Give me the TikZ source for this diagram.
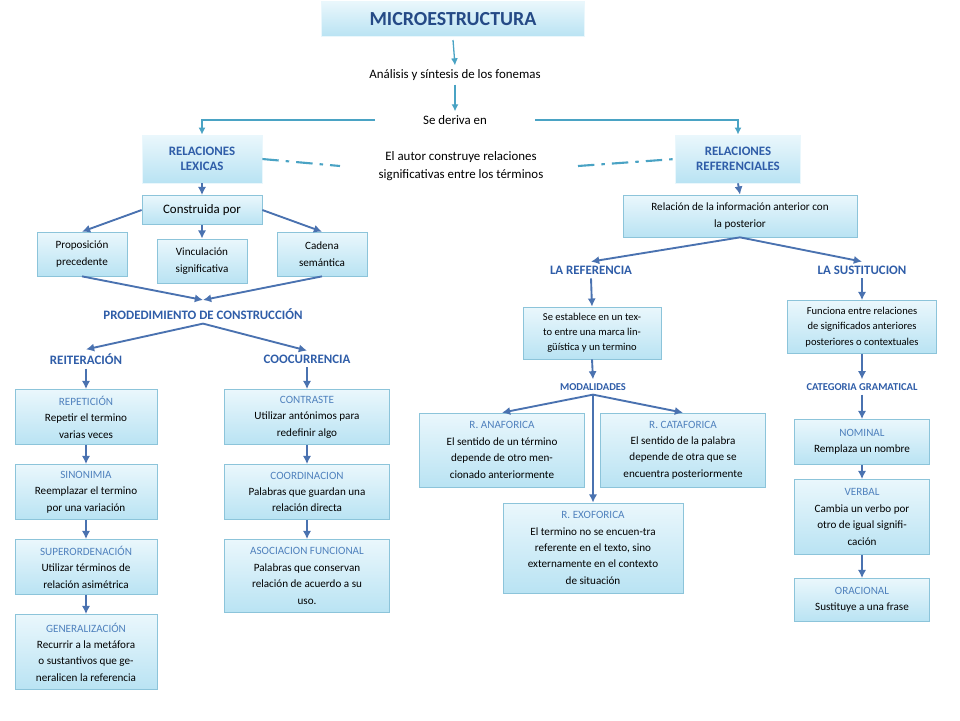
\documentclass[tikz,border=0pt]{standalone}
\usepackage{fontspec}
\setmainfont{Carlito}
\usetikzlibrary{arrows.meta}
\definecolor{boxline}{HTML}{8CC4DA}
\definecolor{boxtop}{HTML}{EAF7FC}
\definecolor{boxbot}{HTML}{B9E3F3}
\definecolor{headblue}{HTML}{2F5DA8}
\definecolor{capblue}{HTML}{4F81BD}
\definecolor{arrblue}{HTML}{4A72B0}
\definecolor{topcyan}{HTML}{4AA3C4}
\tikzset{
  box/.style={draw=boxline, line width=0.6pt, top color=boxtop, bottom color=boxbot,
    align=center, inner sep=2pt, font=\fontsize{9.5}{14}\selectfont},
  head/.style={font=\bfseries\fontsize{11}{13}\selectfont, text=headblue, align=center},
  plain/.style={font=\fontsize{11}{16}\selectfont, align=center},
  arr/.style={draw=arrblue, line width=1.6pt, -{Latex[length=7pt,width=7pt]}},
  carr/.style={draw=topcyan, line width=1.1pt, -{Latex[length=6pt,width=6pt]}},
  dd/.style={draw=topcyan, line width=1.8pt, dash pattern=on 14pt off 6pt on 3pt off 6pt}
}
\newcommand{\boxcap}[1]{\textcolor{capblue}{#1}}
\begin{document}
\begin{tikzpicture}[x=0.03cm,y=-0.03cm]
\useasboundingbox (0,0) rectangle (960,720);
% top
\node[box, minimum width=263*0.03cm, minimum height=35*0.03cm, draw=boxtop, font=\bfseries\fontsize{17}{19}\selectfont, text=headblue!80!black] (title) at (453,19) {MICROESTRUCTURA};
\node[plain] (anal) at (455,75) {Análisis y síntesis de los fonemas};
\node[plain] (der) at (455,120) {Se deriva en};
\node[plain] (autor) at (461,166) {El autor construye relaciones\\significativas entre los términos};
\draw[carr] (title.south |- 0,40) -- (anal.north);
\draw[carr] (anal.south) -- (der.north);
% relaciones
\node[box, draw=boxtop, minimum width=120*0.03cm, minimum height=48*0.03cm, head] (lex) at (202,159) {RELACIONES\\LEXICAS};
\node[box, draw=boxtop, minimum width=125*0.03cm, minimum height=48*0.03cm, head] (ref) at (738,159) {RELACIONES\\REFERENCIALES};
\draw[carr, line width=2pt] (375,120) -| (lex.north);
\draw[carr, line width=2pt] (535,120) -| (ref.north);
\draw[dd] (lex.east) -- (340,166);
\draw[dd] (578,166) -- (ref.west);
% lexicas
\node[box, minimum width=120*0.03cm, minimum height=29*0.03cm, font=\fontsize{11}{13}\selectfont] (cons) at (202,210) {Construida por};
\node[box, minimum width=90*0.03cm, minimum height=44*0.03cm] (prop) at (82,254) {Proposición\\precedente};
\node[box, minimum width=90*0.03cm, minimum height=44*0.03cm] (vinc) at (202,261) {Vinculación\\significativa};
\node[box, minimum width=90*0.03cm, minimum height=44*0.03cm] (cad) at (322,254) {Cadena\\semántica};
\draw[arr] (lex.south) -- (cons.north);
\draw[arr] (cons.west) -- (prop.north);
\draw[arr] (cons.south) -- (vinc.north);
\draw[arr] (cons.east) -- (cad.north);
\node[head] (proc) at (203,314) {PRODEDIMIENTO DE CONSTRUCCIÓN};
\coordinate (meet) at (203,300);
\draw[arr] (prop.south) -- (meet);
\draw[arr] (cad.south) -- (meet);
\node[head] (reit) at (86,359) {REITERACIÓN};
\node[head] (cooc) at (307,359) {COOCURRENCIA};
\draw[arr] (proc.south) -- (reit.north);
\draw[arr] (proc.south) -- (cooc.north);
% reiteracion
\node[box, minimum width=142*0.03cm, minimum height=55*0.03cm] (rep) at (86,417) {\boxcap{REPETICIÓN}\\Repetir el termino\\varias veces};
\node[box, minimum width=142*0.03cm, minimum height=55*0.03cm] (sin) at (86,492) {\boxcap{SINONIMIA}\\Reemplazar el termino\\por una variación};
\node[box, minimum width=142*0.03cm, minimum height=55*0.03cm] (sup) at (86,567) {\boxcap{SUPERORDENACIÓN}\\Utilizar términos de\\relación asimétrica};
\node[box, minimum width=142*0.03cm, minimum height=75*0.03cm] (gen) at (86,652) {\boxcap{GENERALIZACIÓN}\\Recurrir a la metáfora\\o sustantivos que ge-\\neralicen la referencia};
\draw[arr] (reit.south) -- (rep.north);
\draw[arr] (rep.south) -- (sin.north);
\draw[arr] (sin.south) -- (sup.north);
\draw[arr] (sup.south) -- (gen.north);
% coocurrencia
\node[box, minimum width=165*0.03cm, minimum height=55*0.03cm] (contr) at (307,417) {\boxcap{CONTRASTE}\\Utilizar antónimos para\\redefinir algo};
\node[box, minimum width=165*0.03cm, minimum height=55*0.03cm] (coord) at (307,492) {\boxcap{COORDINACION}\\Palabras que guardan una\\relación directa};
\node[box, minimum width=165*0.03cm, minimum height=73*0.03cm] (asoc) at (307,576) {\boxcap{ASOCIACION FUNCIONAL}\\Palabras que conservan\\relación de acuerdo a su\\uso.};
\draw[arr] (cooc.south) -- (contr.north);
\draw[arr] (contr.south) -- (coord.north);
\draw[arr] (coord.south) -- (asoc.north);
% referenciales
\node[box, minimum width=234*0.03cm, minimum height=42*0.03cm] (info) at (740,216) {Relación de la información anterior con\\la posterior};
\draw[arr] (ref.south) -- (info.north);
\node[head] (laref) at (591,270) {LA REFERENCIA};
\node[head] (lasus) at (862,270) {LA SUSTITUCION};
\draw[arr] (info.south) -- (laref.north);
\draw[arr] (info.south) -- (lasus.north);
\node[box, minimum width=138*0.03cm, minimum height=52*0.03cm, font=\fontsize{9}{13}\selectfont] (est) at (592,333) {Se establece en un tex-\\to entre una marca lin-\\güística y un termino};
\draw[arr] (laref.south) -- (est.north);
\node[head, font=\bfseries\fontsize{9}{11}\selectfont] (moda) at (593,387) {MODALIDADES};
\draw[arr] (est.south) -- (moda.north);
\node[box, minimum width=165*0.03cm, minimum height=74*0.03cm] (ana) at (502,450) {\boxcap{R. ANAFORICA}\\El sentido de un término\\depende de otro men-\\cionado anteriormente};
\node[box, minimum width=165*0.03cm, minimum height=74*0.03cm] (cata) at (683,450) {\boxcap{R. CATAFORICA}\\El sentido de la palabra\\depende de otra que se\\encuentra posteriormente};
\node[box, minimum width=180*0.03cm, minimum height=90*0.03cm] (exo) at (593,548) {\boxcap{R. EXOFORICA}\\El termino no se encuen-tra\\referente en el texto, sino\\externamente en el contexto\\de situación};
\draw[arr] (moda.south) -- (ana.north);
\draw[arr] (moda.south) -- (cata.north);
\draw[arr] (moda.south) -- (exo.north);
% sustitucion
\node[box, minimum width=149*0.03cm, minimum height=53*0.03cm, font=\fontsize{9}{13}\selectfont] (func) at (862,327) {Funciona entre relaciones\\de significados anteriores\\posteriores o contextuales};
\draw[arr] (lasus.south) -- (func.north);
\node[head, font=\bfseries\fontsize{9}{11}\selectfont] (cat) at (862,387) {CATEGORIA GRAMATICAL};
\draw[arr] (func.south) -- (cat.north);
\node[box, minimum width=135*0.03cm, minimum height=45*0.03cm] (nom) at (862,442) {\boxcap{NOMINAL}\\Remplaza un nombre};
\node[box, minimum width=135*0.03cm, minimum height=75*0.03cm] (verb) at (862,517) {\boxcap{VERBAL}\\Cambia un verbo por\\otro de igual signifi-\\cación};
\node[box, minimum width=135*0.03cm, minimum height=43*0.03cm] (ora) at (862,600) {\boxcap{ORACIONAL}\\Sustituye a una frase};
\draw[arr] (cat.south) -- (nom.north);
\draw[arr] (nom.south) -- (verb.north);
\draw[arr] (verb.south) -- (ora.north);
\end{tikzpicture}
\end{document}
